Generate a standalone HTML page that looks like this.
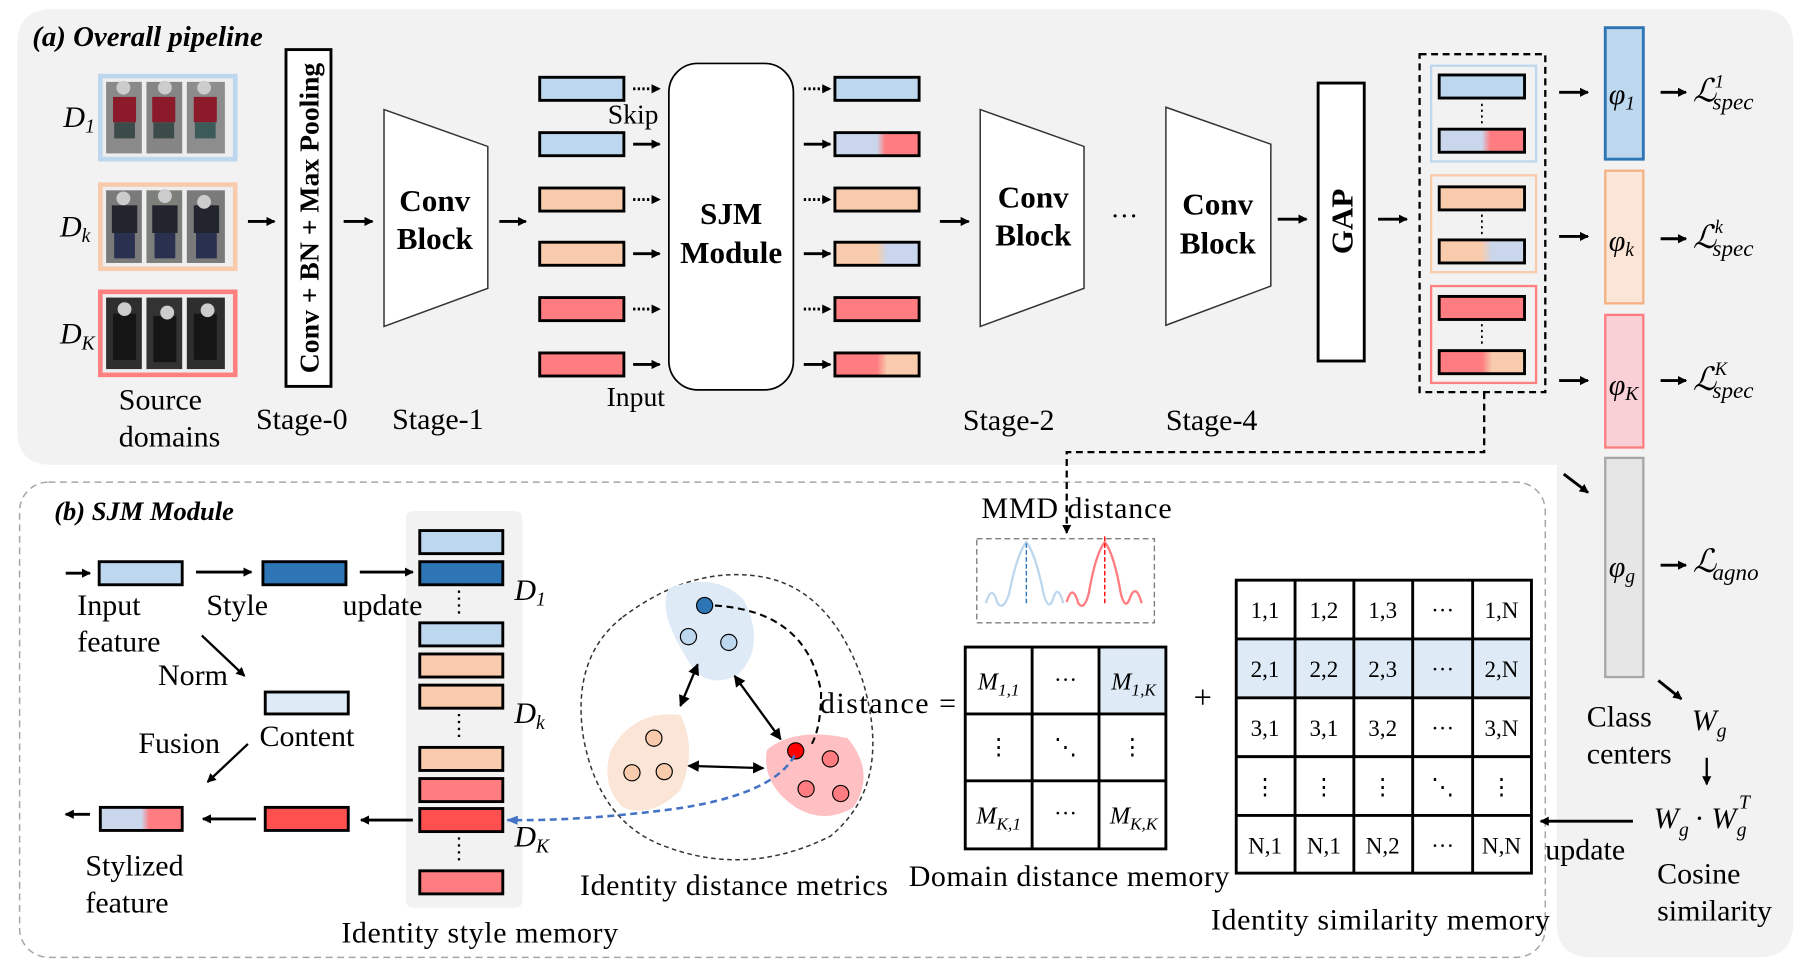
<!DOCTYPE html>
<html><head><meta charset="utf-8"><style>
html,body{margin:0;padding:0;background:#fff;}
svg{display:block;}
text{font-family:"Liberation Serif",serif;fill:#000;}
.b{font-weight:bold;}
.i{font-style:italic;}
</style></head><body>
<svg width="1799" height="970" viewBox="0 0 1560 841" preserveAspectRatio="none" xmlns="http://www.w3.org/2000/svg">
<defs>
<marker id="ah" markerWidth="8" markerHeight="8" refX="7" refY="4" orient="auto" markerUnits="userSpaceOnUse"><path d="M0,0 L8,4 L0,8 z" fill="#000"/></marker>
<marker id="ahs" markerWidth="10" markerHeight="10" refX="9" refY="5" orient="auto-start-reverse" markerUnits="userSpaceOnUse"><path d="M0,0 L10,5 L0,10 z" fill="#000"/></marker>
<marker id="ahb" markerWidth="10" markerHeight="10" refX="9" refY="5" orient="auto" markerUnits="userSpaceOnUse"><path d="M0,1 L10,5 L0,9 z" fill="#4472c4"/></marker>
<linearGradient id="gBR" x1="0" x2="1"><stop offset="0.5" stop-color="#c9d6ec"/><stop offset="0.6" stop-color="#ff7c80"/></linearGradient>
<linearGradient id="gOB" x1="0" x2="1"><stop offset="0.5" stop-color="#f8cbad"/><stop offset="0.62" stop-color="#c9d6ec"/></linearGradient>
<linearGradient id="gRO" x1="0" x2="1"><stop offset="0.5" stop-color="#ff7c80"/><stop offset="0.62" stop-color="#f8cbad"/></linearGradient>
</defs>

<path d="M45,8 H1525 Q1555,8 1555,38 V800 Q1555,830 1525,830 H1380 Q1350,830 1350,800 V403 H45 Q15,403 15,373 V38 Q15,8 45,8 Z" fill="#f2f2f2"/>
<rect x="17" y="418" width="1323" height="412" rx="25" fill="#fff" stroke="#a6a6a6" stroke-width="1.3" stroke-dasharray="6,4"/>

<text x="28" y="40" font-size="25" class="b i">(a) Overall pipeline</text>

<g>
<rect x="87" y="66" width="117" height="72" fill="#eee" stroke="#bdd7ee" stroke-width="4"/>
<rect x="92" y="71" width="31" height="62" fill="#8a8a8a"/><rect x="127" y="71" width="31" height="62" fill="#858585"/><rect x="162" y="71" width="33" height="62" fill="#8d8d8d"/>
<rect x="98" y="84" width="20" height="22" fill="#8b1a2a"/><rect x="132" y="84" width="20" height="22" fill="#8b1a2a"/><rect x="168" y="84" width="20" height="22" fill="#8b1a2a"/>
<rect x="99" y="106" width="18" height="14" fill="#3d4a4a"/><rect x="133" y="106" width="18" height="14" fill="#3d4a4a"/><rect x="169" y="106" width="18" height="14" fill="#3d5a5a"/>
<circle cx="107" cy="76" r="6" fill="#ccc"/><circle cx="143" cy="76" r="6" fill="#ccc"/><circle cx="177" cy="76" r="6" fill="#ccc"/>
<rect x="87" y="160" width="117" height="73" fill="#eee" stroke="#f8cbad" stroke-width="4"/>
<rect x="92" y="165" width="31" height="63" fill="#7a7a7a"/><rect x="127" y="165" width="31" height="63" fill="#7d807a"/><rect x="162" y="165" width="33" height="63" fill="#7a7a7a"/>
<rect x="97" y="178" width="22" height="24" fill="#22252e"/><rect x="132" y="178" width="22" height="24" fill="#22252e"/><rect x="168" y="178" width="22" height="24" fill="#22252e"/>
<rect x="99" y="202" width="18" height="22" fill="#2a3050"/><rect x="134" y="202" width="18" height="22" fill="#2a3050"/><rect x="170" y="202" width="18" height="22" fill="#2a3050"/>
<circle cx="107" cy="172" r="6" fill="#ccc"/><circle cx="143" cy="170" r="6" fill="#ccc"/><circle cx="177" cy="175" r="6" fill="#ccc"/>
<rect x="87" y="253" width="117" height="72" fill="#eee" stroke="#ff8080" stroke-width="4"/>
<rect x="92" y="258" width="31" height="62" fill="#2e2e2e"/><rect x="127" y="258" width="31" height="62" fill="#333"/><rect x="162" y="258" width="33" height="62" fill="#2e2e2e"/>
<rect x="98" y="272" width="20" height="40" fill="#151515"/><rect x="133" y="274" width="20" height="40" fill="#151515"/><rect x="168" y="272" width="20" height="40" fill="#151515"/>
<circle cx="108" cy="268" r="6" fill="#ccc"/><circle cx="145" cy="271" r="6" fill="#ccc"/><circle cx="180" cy="269" r="6" fill="#ccc"/>
</g>
<text x="55" y="110" font-size="26" class="i">D<tspan font-size="17" dy="5">1</tspan></text>
<text x="52" y="205" font-size="26" class="i">D<tspan font-size="17" dy="5">k</tspan></text>
<text x="52" y="298" font-size="26" class="i">D<tspan font-size="17" dy="5">K</tspan></text>
<text x="103" y="355" font-size="26">Source</text>
<text x="103" y="387" font-size="26">domains</text>

<g stroke="#000" stroke-width="2.5" fill="none">
<line x1="215" y1="192" x2="238" y2="192" marker-end="url(#ah)"/>
<line x1="298" y1="192" x2="323" y2="192" marker-end="url(#ah)"/>
<line x1="433" y1="192" x2="456" y2="192" marker-end="url(#ah)"/>
<line x1="815" y1="192" x2="840" y2="192" marker-end="url(#ah)"/>
<line x1="1108" y1="190" x2="1133" y2="190" marker-end="url(#ah)"/>
<line x1="1195" y1="190" x2="1220" y2="190" marker-end="url(#ah)"/>
<line x1="1352" y1="80" x2="1377" y2="80" marker-end="url(#ah)"/>
<line x1="1352" y1="205" x2="1377" y2="205" marker-end="url(#ah)"/>
<line x1="1352" y1="330" x2="1377" y2="330" marker-end="url(#ah)"/>
<line x1="1440" y1="80" x2="1462" y2="80" marker-end="url(#ah)"/>
<line x1="1440" y1="207" x2="1462" y2="207" marker-end="url(#ah)"/>
<line x1="1440" y1="330" x2="1462" y2="330" marker-end="url(#ah)"/>
<line x1="1440" y1="490" x2="1462" y2="490" marker-end="url(#ah)"/>
</g>

<rect x="248" y="43" width="39" height="292" fill="#fff" stroke="#000" stroke-width="2.5"/>
<text transform="translate(276,189) rotate(-90)" font-size="24" class="b" text-anchor="middle">Conv + BN + Max Pooling</text>
<text x="222" y="372" font-size="26">Stage-0</text>

<polygon points="333,95 423,127 423,250 333,283" fill="#fff" stroke="#333" stroke-width="1.3"/>
<text x="377" y="183" font-size="27" class="b" text-anchor="middle">Conv</text>
<text x="377" y="216" font-size="27" class="b" text-anchor="middle">Block</text>
<text x="340" y="372" font-size="26">Stage-1</text>

<g stroke="#000" stroke-width="2.5">
<rect x="468" y="67" width="73" height="20" fill="#bdd7ee"/>
<rect x="468" y="115" width="73" height="20" fill="#bdd7ee"/>
<rect x="468" y="163" width="73" height="20" fill="#f8cbad"/>
<rect x="468" y="210" width="73" height="20" fill="#f8cbad"/>
<rect x="468" y="258" width="73" height="20" fill="#ff7c80"/>
<rect x="468" y="306" width="73" height="20" fill="#ff7c80"/>
<rect x="724" y="67" width="73" height="20" fill="#bdd7ee"/>
<rect x="724" y="115" width="73" height="20" fill="url(#gBR)"/>
<rect x="724" y="163" width="73" height="20" fill="#f8cbad"/>
<rect x="724" y="210" width="73" height="20" fill="url(#gOB)"/>
<rect x="724" y="258" width="73" height="20" fill="#ff7c80"/>
<rect x="724" y="306" width="73" height="20" fill="url(#gRO)"/>
</g>
<g stroke="#000" stroke-width="2.5" fill="none">
<line x1="549" y1="125" x2="572" y2="125" marker-end="url(#ah)"/>
<line x1="549" y1="220" x2="572" y2="220" marker-end="url(#ah)"/>
<line x1="549" y1="316" x2="572" y2="316" marker-end="url(#ah)"/>
<line x1="697" y1="125" x2="720" y2="125" marker-end="url(#ah)"/>
<line x1="697" y1="220" x2="720" y2="220" marker-end="url(#ah)"/>
<line x1="697" y1="316" x2="720" y2="316" marker-end="url(#ah)"/>
</g>
<g stroke="#000" stroke-width="2.5" fill="none" stroke-dasharray="2,2">
<line x1="549" y1="77" x2="572" y2="77" marker-end="url(#ah)"/>
<line x1="549" y1="173" x2="572" y2="173" marker-end="url(#ah)"/>
<line x1="549" y1="268" x2="572" y2="268" marker-end="url(#ah)"/>
<line x1="697" y1="77" x2="720" y2="77" marker-end="url(#ah)"/>
<line x1="697" y1="173" x2="720" y2="173" marker-end="url(#ah)"/>
<line x1="697" y1="268" x2="720" y2="268" marker-end="url(#ah)"/>
</g>
<text x="527" y="107" font-size="24">Skip</text>
<text x="526" y="352" font-size="24">Input</text>

<rect x="580" y="55" width="108" height="283" rx="25" fill="#fff" stroke="#000" stroke-width="1.5"/>
<text x="634" y="194" font-size="27" class="b" text-anchor="middle">SJM</text>
<text x="634" y="228" font-size="27" class="b" text-anchor="middle">Module</text>

<polygon points="850,95 940,127 940,250 850,283" fill="#fff" stroke="#333" stroke-width="1.3"/>
<text x="896" y="180" font-size="27" class="b" text-anchor="middle">Conv</text>
<text x="896" y="213" font-size="27" class="b" text-anchor="middle">Block</text>
<text x="835" y="373" font-size="26">Stage-2</text>
<text x="975" y="195" font-size="24" text-anchor="middle">···</text>
<polygon points="1011,93 1102,125 1102,248 1011,282" fill="#fff" stroke="#333" stroke-width="1.3"/>
<text x="1056" y="186" font-size="27" class="b" text-anchor="middle">Conv</text>
<text x="1056" y="220" font-size="27" class="b" text-anchor="middle">Block</text>
<text x="1011" y="373" font-size="26">Stage-4</text>

<rect x="1143" y="72" width="40" height="241" fill="#fff" stroke="#000" stroke-width="2.5"/>
<text transform="translate(1173,192) rotate(-90)" font-size="27" class="b" text-anchor="middle">GAP</text>

<rect x="1231" y="47" width="109" height="293" fill="none" stroke="#000" stroke-width="2" stroke-dasharray="6,4"/>
<rect x="1241" y="57" width="91" height="83" fill="none" stroke="#bdd7ee" stroke-width="2"/>
<rect x="1241" y="152" width="91" height="84" fill="none" stroke="#f8cbad" stroke-width="2"/>
<rect x="1241" y="248" width="91" height="84" fill="none" stroke="#ff8080" stroke-width="2"/>
<g stroke="#000" stroke-width="2.5">
<rect x="1248" y="65" width="74" height="20" fill="#bdd7ee"/>
<rect x="1248" y="112" width="74" height="20" fill="url(#gBR)"/>
<rect x="1248" y="162" width="74" height="20" fill="#f8cbad"/>
<rect x="1248" y="208" width="74" height="20" fill="url(#gOB)"/>
<rect x="1248" y="257" width="74" height="20" fill="#ff7c80"/>
<rect x="1248" y="304" width="74" height="20" fill="url(#gRO)"/>
</g>
<g stroke="#000" stroke-width="1.5" stroke-dasharray="2,3">
<line x1="1285" y1="90" x2="1285" y2="108"/><line x1="1285" y1="186" x2="1285" y2="204"/><line x1="1285" y1="281" x2="1285" y2="300"/>
</g>

<rect x="1392" y="24" width="33" height="114" fill="#bdd7ee" stroke="#2e75b6" stroke-width="2.5"/>
<rect x="1392" y="148" width="33" height="115" fill="#fbe5d6" stroke="#f4b183" stroke-width="2"/>
<rect x="1392" y="273" width="33" height="115" fill="#f8d0d6" stroke="#ff7c80" stroke-width="2"/>
<rect x="1392" y="397" width="33" height="190" fill="#e7e6e6" stroke="#a6a6a6" stroke-width="2"/>
<text x="1395" y="90" font-size="26" class="i">φ<tspan font-size="17" dy="5">1</tspan></text>
<text x="1395" y="217" font-size="26" class="i">φ<tspan font-size="17" dy="5">k</tspan></text>
<text x="1395" y="342" font-size="26" class="i">φ<tspan font-size="17" dy="5">K</tspan></text>
<text x="1395" y="500" font-size="26" class="i">φ<tspan font-size="17" dy="5">g</tspan></text>
<g class="i">
<text x="1468" y="88" font-size="28">ℒ</text><text x="1487" y="76" font-size="16">1</text><text x="1485" y="95" font-size="20">spec</text>
<text x="1468" y="215" font-size="28">ℒ</text><text x="1487" y="202" font-size="16">k</text><text x="1485" y="222" font-size="20">spec</text>
<text x="1468" y="338" font-size="28">ℒ</text><text x="1487" y="325" font-size="16">K</text><text x="1485" y="345" font-size="20">spec</text>
<text x="1468" y="496" font-size="28">ℒ</text><text x="1485" y="503" font-size="20">agno</text>
</g>
<line x1="1356" y1="411" x2="1377" y2="427" stroke="#000" stroke-width="2.5" marker-end="url(#ah)"/>

<path d="M1287,340 V392 H925 V462" fill="none" stroke="#000" stroke-width="2" stroke-dasharray="6,4" marker-end="url(#ah)"/>

<text x="47" y="451" font-size="23" class="b i">(b) SJM Module</text>
<rect x="352" y="443" width="101" height="344" rx="6" fill="#f2f2f2"/>
<g stroke="#000" stroke-width="2.5">
<rect x="364" y="460" width="72" height="20" fill="#bdd7ee"/>
<rect x="364" y="487" width="72" height="20" fill="#2e75b6"/>
<rect x="364" y="540" width="72" height="20" fill="#bdd7ee"/>
<rect x="364" y="567" width="72" height="20" fill="#f8cbad"/>
<rect x="364" y="594" width="72" height="20" fill="#f8cbad"/>
<rect x="364" y="648" width="72" height="20" fill="#f8cbad"/>
<rect x="364" y="675" width="72" height="20" fill="#ff7c80"/>
<rect x="364" y="701" width="72" height="20" fill="#ff5050"/>
<rect x="364" y="755" width="72" height="20" fill="#ff7c80"/>
<rect x="86" y="487" width="72" height="20" fill="#bdd7ee"/>
<rect x="228" y="487" width="72" height="20" fill="#2e75b6"/>
<rect x="230" y="600" width="72" height="19" fill="#deebf7"/>
<rect x="230" y="700" width="72" height="20" fill="#ff5050"/>
<rect x="87" y="700" width="71" height="20" fill="url(#gBR)"/>
</g>
<g stroke="#000" stroke-width="2" stroke-dasharray="2,4">
<line x1="398" y1="512" x2="398" y2="535"/><line x1="398" y1="619" x2="398" y2="643"/><line x1="398" y1="726" x2="398" y2="750"/>
</g>
<text x="446" y="520" font-size="26" class="i">D<tspan font-size="17" dy="5">1</tspan></text>
<text x="446" y="627" font-size="26" class="i">D<tspan font-size="17" dy="5">k</tspan></text>
<text x="446" y="734" font-size="26" class="i">D<tspan font-size="17" dy="5">K</tspan></text>
<g stroke="#000" stroke-width="2.5" fill="none">
<line x1="57" y1="497" x2="78" y2="497" marker-end="url(#ah)"/>
<line x1="170" y1="496" x2="218" y2="496" marker-end="url(#ah)"/>
<line x1="312" y1="496" x2="358" y2="496" marker-end="url(#ah)"/>
<line x1="175" y1="551" x2="212" y2="586" stroke-width="2" marker-end="url(#ah)"/>
<line x1="215" y1="645" x2="180" y2="678" stroke-width="2" marker-end="url(#ah)"/>
<line x1="358" y1="711" x2="313" y2="711" marker-end="url(#ah)"/>
<line x1="222" y1="710" x2="176" y2="710" marker-end="url(#ah)"/>
<line x1="78" y1="706" x2="57" y2="706" marker-end="url(#ah)"/>
</g>
<g font-size="26">
<text x="67" y="533">Input</text><text x="67" y="565">feature</text>
<text x="179" y="533">Style</text><text x="297" y="533">update</text>
<text x="137" y="594">Norm</text>
<text x="225" y="647">Content</text>
<text x="120" y="653">Fusion</text>
<text x="74" y="759">Stylized</text><text x="74" y="791">feature</text>
<text x="296" y="817" textLength="240">Identity style memory</text>
</g>

<path d="M540,535 Q600,490 660,500 Q720,510 748,590 Q775,680 720,725 Q650,760 580,735 Q520,715 506,640 Q495,570 540,535 Z" fill="none" stroke="#333" stroke-width="1.3" stroke-dasharray="4,3"/>
<path d="M580,510 Q620,495 645,520 Q665,560 640,585 Q610,600 595,570 Q570,530 580,510 Z" fill="#deebf7"/>
<path d="M530,650 Q550,615 590,620 Q605,650 590,685 Q565,710 540,700 Q520,680 530,650 Z" fill="#fbe5d6"/>
<path d="M665,650 Q690,630 735,640 Q760,670 740,700 Q715,715 690,700 Q660,680 665,650 Z" fill="#ffc0c4"/>
<g stroke="#000" stroke-width="1">
<circle cx="611" cy="525" r="7" fill="#2e75b6"/>
<circle cx="597" cy="552" r="7" fill="#bdd7ee"/><circle cx="632" cy="557" r="7" fill="#bdd7ee"/>
<circle cx="567" cy="640" r="7" fill="#f8cbad"/><circle cx="548" cy="670" r="7" fill="#f8cbad"/><circle cx="576" cy="669" r="7" fill="#f8cbad"/>
<circle cx="690" cy="651" r="7" fill="#ff0000"/><circle cx="720" cy="658" r="7" fill="#ff7c80"/><circle cx="699" cy="684" r="7" fill="#ff7c80"/><circle cx="729" cy="688" r="7" fill="#ff7c80"/>
</g>
<g stroke="#000" stroke-width="2" fill="none">
<line x1="605" y1="576" x2="590" y2="612" marker-start="url(#ahs)" marker-end="url(#ahs)"/>
<line x1="637" y1="586" x2="677" y2="641" marker-start="url(#ahs)" marker-end="url(#ahs)"/>
<line x1="597" y1="664" x2="662" y2="666" marker-start="url(#ahs)" marker-end="url(#ahs)"/>
</g>
<path d="M620,525 Q700,530 712,600 Q712,630 704,645" fill="none" stroke="#000" stroke-width="1.8" stroke-dasharray="6,4"/>
<path d="M689,655 Q670,690 580,702 Q500,712 440,711" fill="none" stroke="#4472c4" stroke-width="2.2" stroke-dasharray="6,4" marker-end="url(#ahb)"/>
<text x="711" y="618" font-size="26" textLength="118">distance =</text>
<text x="503" y="776" font-size="26" textLength="267">Identity distance metrics</text>

<text x="851" y="449" font-size="26" textLength="165">MMD distance</text>
<rect x="847" y="467" width="154" height="73" fill="#fff" stroke="#7f7f7f" stroke-width="1.2" stroke-dasharray="5,3"/>
<path d="M855,523 Q860,505 865,523 Q870,530 875,515 Q882,480 890,470 Q898,480 905,515 Q909,530 913,520 Q917,505 922,523" fill="none" stroke="#bdd7ee" stroke-width="2"/>
<path d="M925,522 Q930,505 935,523 Q940,530 944,515 Q950,480 958,470 Q966,480 972,515 Q976,530 980,518 Q985,505 990,523" fill="none" stroke="#ff7c80" stroke-width="2"/>
<line x1="890" y1="471" x2="890" y2="525" stroke="#2e75b6" stroke-width="1.2" stroke-dasharray="4,2"/>
<line x1="958" y1="465" x2="958" y2="525" stroke="#ff0000" stroke-width="1.2" stroke-dasharray="4,2"/>

<rect x="953" y="561" width="58" height="58" fill="#deebf7"/>
<g stroke="#000" stroke-width="2.5" fill="none">
<rect x="837" y="561" width="174" height="175"/>
<line x1="895" y1="561" x2="895" y2="736"/><line x1="953" y1="561" x2="953" y2="736"/>
<line x1="837" y1="619" x2="1011" y2="619"/><line x1="837" y1="677" x2="1011" y2="677"/>
</g>
<g font-size="21" class="i" text-anchor="middle">
<text x="866" y="598">M<tspan font-size="15" dy="5">1,1</tspan></text>
<text x="983" y="598">M<tspan font-size="15" dy="5">1,K</tspan></text>
<text x="866" y="714">M<tspan font-size="15" dy="5">K,1</tspan></text>
<text x="983" y="714">M<tspan font-size="15" dy="5">K,K</tspan></text>
</g>
<g font-size="20" text-anchor="middle">
<text x="924" y="596">···</text><text x="924" y="712">···</text>
<text x="866" y="654">⋮</text><text x="924" y="654">⋱</text><text x="982" y="654">⋮</text>
</g>
<text x="788" y="768" font-size="26" textLength="278">Domain distance memory</text>
<text x="1043" y="614" font-size="28" text-anchor="middle">+</text>

<rect x="1072" y="554" width="256" height="51" fill="#deebf7"/>
<g stroke="#000" stroke-width="2.5" fill="none">
<rect x="1072" y="503" width="256" height="254"/>
<line x1="1123" y1="503" x2="1123" y2="757"/><line x1="1174" y1="503" x2="1174" y2="757"/><line x1="1225" y1="503" x2="1225" y2="757"/><line x1="1277" y1="503" x2="1277" y2="757"/>
<line x1="1072" y1="554" x2="1328" y2="554"/><line x1="1072" y1="605" x2="1328" y2="605"/><line x1="1072" y1="656" x2="1328" y2="656"/><line x1="1072" y1="707" x2="1328" y2="707"/>
</g>
<g font-size="20" text-anchor="middle">
<text x="1097" y="536">1,1</text><text x="1148" y="536">1,2</text><text x="1199" y="536">1,3</text><text x="1251" y="536">···</text><text x="1302" y="536">1,N</text>
<text x="1097" y="587">2,1</text><text x="1148" y="587">2,2</text><text x="1199" y="587">2,3</text><text x="1251" y="587">···</text><text x="1302" y="587">2,N</text>
<text x="1097" y="638">3,1</text><text x="1148" y="638">3,1</text><text x="1199" y="638">3,2</text><text x="1251" y="638">···</text><text x="1302" y="638">3,N</text>
<text x="1097" y="689">⋮</text><text x="1148" y="689">⋮</text><text x="1199" y="689">⋮</text><text x="1251" y="689">⋱</text><text x="1302" y="689">⋮</text>
<text x="1097" y="740">N,1</text><text x="1148" y="740">N,1</text><text x="1199" y="740">N,2</text><text x="1251" y="740">···</text><text x="1302" y="740">N,N</text>
</g>
<text x="1050" y="806" font-size="26" textLength="294">Identity similarity memory</text>

<line x1="1416" y1="712" x2="1336" y2="712" stroke="#000" stroke-width="2.5" marker-end="url(#ah)"/>
<text x="1340" y="745" font-size="26">update</text>
<line x1="1438" y1="590" x2="1458" y2="606" stroke="#000" stroke-width="2.5" marker-end="url(#ah)"/>
<line x1="1480" y1="657" x2="1480" y2="680" stroke="#000" stroke-width="2" marker-end="url(#ah)"/>
<text x="1376" y="630" font-size="26">Class</text>
<text x="1376" y="662" font-size="26">centers</text>
<text x="1467" y="633" font-size="26" class="i">W<tspan font-size="17" dy="6">g</tspan></text>
<g class="i">
<text x="1434" y="718" font-size="26">W</text><text x="1456" y="725" font-size="17">g</text>
<text x="1470" y="718" font-size="26">·</text>
<text x="1484" y="718" font-size="26">W</text><text x="1506" y="725" font-size="17">g</text><text x="1508" y="701" font-size="17">T</text>
</g>
<text x="1437" y="766" font-size="26">Cosine</text>
<text x="1437" y="798" font-size="26">similarity</text>
</svg>
</body></html>
